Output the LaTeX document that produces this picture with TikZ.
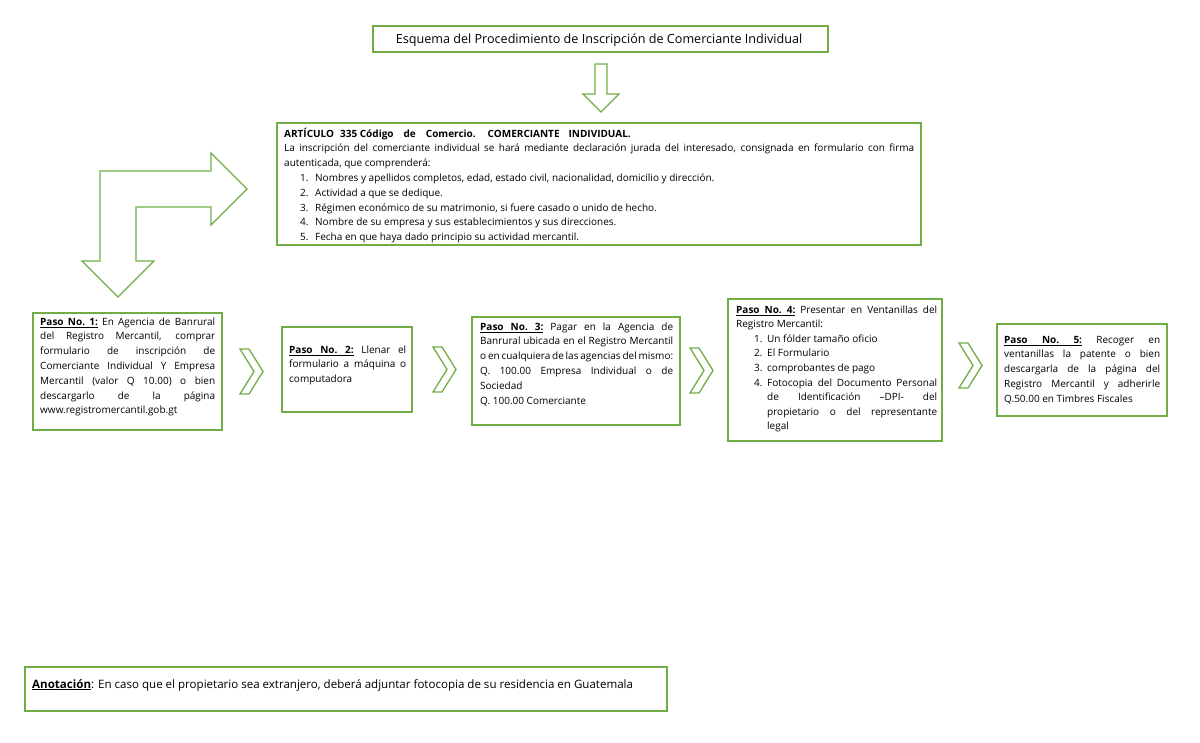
\documentclass[tikz,border=0pt]{standalone}
\usepackage{fontspec}
\setmainfont{Open Sans}
\definecolor{gr}{HTML}{70AD47}
\tikzset{
  gline/.style={draw=gr, line width=1.3pt, line join=miter},
  gbox/.style={gline, rectangle, inner sep=0pt, outer sep=0pt, anchor=north west},
  txt/.style={inner sep=0pt, anchor=north west, align=justify,
    font={\fontsize{10}{14.8}\selectfont\parindent=0pt}},
  chevron/.pic={\draw[gline] (0,0) -- (9,0) -- (23,22.5) -- (9,45) -- (0,45) -- (14,22.5) -- cycle;}
}
\newcommand{\ulw}[1]{\setbox0=\hbox{#1}\rlap{\rule[-2pt]{\wd0}{0.6pt}}\box0}
\newcommand{\uls}{\leaders\hrule height -1.4pt depth 2pt\hskip\fontdimen2\font plus\fontdimen3\font minus\fontdimen4\font}
\newcommand{\paso}[1]{\textbf{\ulw{Paso}\uls\ulw{No.}\uls\ulw{#1:}}}
\newcommand{\itemA}[2]{{\leftskip=31pt\noindent\llap{\makebox[15pt][l]{#1}}#2\par}}
\newcommand{\itemB}[2]{{\leftskip=31pt\noindent\llap{\makebox[13pt][l]{#1}}#2\par}}
\newcommand{\topr}{\rule{0pt}{10pt}}
\begin{document}
\begin{tikzpicture}[x=1pt,y=-1pt]
\useasboundingbox (0,0) rectangle (1200,743);

% title
\node[gbox, minimum width=455pt, minimum height=26pt] (title) at (373,26) {};
\node[inner sep=0pt, anchor=base, font=\fontsize{12.6}{15}\selectfont] (titletxt) at (599,43.5)
  {Esquema del Procedimiento de Inscripción de Comerciante Individual};

% down arrow
\draw[gline] (595,64) -- (607,64) -- (607,94) -- (619,94) -- (601,112) -- (583,94) -- (595,94) -- cycle;

% article box
\node[gbox, minimum width=644pt, minimum height=122pt] (art) at (277,123) {};
\node[txt, text width=630pt] (arttxt) at (284,127) {%
\topr\textbf{ARTÍCULO\hspace{6pt}335 Código\hspace{10pt}de\hspace{10pt}Comercio.\hspace{12pt}COMERCIANTE\hspace{9pt}INDIVIDUAL.}\par
La inscripción del comerciante individual se hará mediante declaración jurada del interesado, consignada en formulario con firma\linebreak autenticada, que comprenderá:\par
\itemA{1.}{Nombres y apellidos completos, edad, estado civil, nacionalidad, domicilio y dirección.}
\itemA{2.}{Actividad a que se dedique.}
\itemA{3.}{Régimen económico de su matrimonio, si fuere casado o unido de hecho.}
\itemA{4.}{Nombre de su empresa y sus establecimientos y sus direcciones.}
\itemA{5.}{Fecha en que haya dado principio su actividad mercantil.}};

% bent arrow
\draw[gline] (100,261) -- (100,171) -- (211,171) -- (211,153) -- (247,189) -- (211,225)
  -- (211,207) -- (136,207) -- (136,261) -- (154,261) -- (118,297) -- (82,261) -- cycle;

% Paso 1
\node[gbox, minimum width=189pt, minimum height=117pt] (p1) at (33,313) {};
\node[txt, text width=175pt] (p1txt) at (40,315) {%
\topr\paso{1} En Agencia de Banrural\linebreak del Registro Mercantil, comprar\linebreak formulario de inscripción de\linebreak Comerciante Individual Y Empresa\linebreak Mercantil (valor Q 10.00) o bien\linebreak descargarlo de la página\linebreak www.registromercantil.gob.gt};

\pic at (240,349) {chevron};

% Paso 2
\node[gbox, minimum width=130pt, minimum height=85pt] (p2) at (282,327) {};
\node[txt, text width=117pt] (p2txt) at (289,343) {%
\topr\textbf{\ulw{Paso}\uls\ulw{No.}\uls\ulw{2:}\uls}Llenar el\linebreak formulario a máquina o\linebreak computadora};

\pic at (433,347) {chevron};

% Paso 3
\node[gbox, minimum width=208pt, minimum height=108pt] (p3) at (472,317) {};
\node[txt, text width=193pt] (p3txt) at (480,320) {%
\topr\paso{3} Pagar en la Agencia de\linebreak Banrural ubicada en el Registro Mercantil\linebreak o en cualquiera de las agencias del mismo:\linebreak Q. 100.00 Empresa Individual o de\linebreak Sociedad\par
Q. 100.00 Comerciante};

\pic at (690,348) {chevron};

% Paso 4
\node[gbox, minimum width=214pt, minimum height=142pt] (p4) at (728,299) {};
\node[txt, text width=201pt, font={\fontsize{10}{14.6}\selectfont\parindent=0pt}] (p4txt) at (736,303) {%
\topr\paso{4} Presentar en Ventanillas del\linebreak Registro Mercantil:\par
\itemB{1.}{Un fólder tamaño oficio}
\itemB{2.}{El Formulario}
\itemB{3.}{comprobantes de pago}
\itemB{4.}{Fotocopia del Documento Personal\linebreak de Identificación –DPI- del\linebreak propietario o del representante\linebreak legal}};

\pic at (959,343) {chevron};

% Paso 5
\node[gbox, minimum width=170pt, minimum height=92pt] (p5) at (997,324) {};
\node[txt, text width=156pt] (p5txt) at (1004,333) {%
\topr\paso{5} Recoger en\linebreak ventanillas la patente o bien\linebreak descargarla de la página del\linebreak Registro Mercantil y adherirle\linebreak Q.50.00 en Timbres Fiscales};

% Anotacion
\node[gbox, minimum width=642pt, minimum height=44pt] (anot) at (25,667) {};
\node[inner sep=0pt, anchor=base west, font=\fontsize{11.55}{14}\selectfont] (anottxt) at (32,688)
  {\textbf{\ulw{Anotación}}: En caso que el propietario sea extranjero, deberá adjuntar fotocopia de su residencia en Guatemala};
\end{tikzpicture}
\end{document}
